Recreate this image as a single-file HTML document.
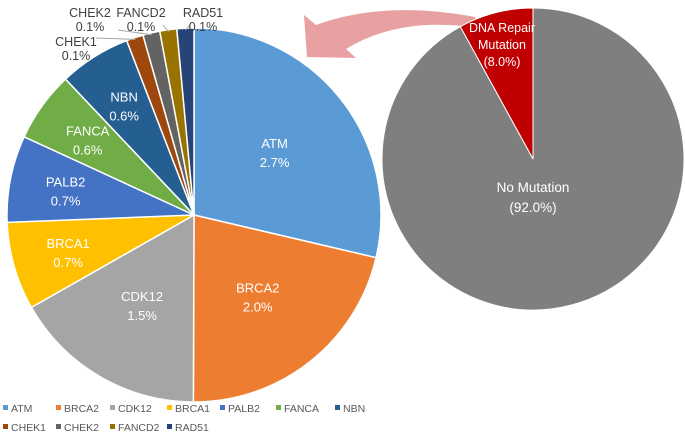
<!DOCTYPE html>
<html><head><meta charset="utf-8"><style>
body{margin:0;background:#fff;width:685px;height:435px;overflow:hidden;font-family:"Liberation Sans",sans-serif}
svg text{font-family:"Liberation Sans",sans-serif}
</style></head><body>
<svg id="chart" width="685" height="435" viewBox="0 0 685 435" xmlns="http://www.w3.org/2000/svg">
<path d="M304,15 L316,25 Q385,0 475,17 L478,28 Q400,16 346,49 L356,58 L307,57 Z" fill="#e8a0a2"/>
<g id="right"></g>
<g id="left"></g>
<g id="labels"></g>
<g id="legend"></g>
</svg>
<script>
const genes=["ATM","BRCA2","CDK12","BRCA1","PALB2","FANCA","NBN","CHEK1","CHEK2","FANCD2","RAD51"];
const geneWeights=[2.64,1.97,1.54,0.70,0.69,0.56,0.57,0.135,0.135,0.135,0.135];
const geneLabels=["2.7%","2.0%","1.5%","0.7%","0.7%","0.6%","0.6%","0.1%","0.1%","0.1%","0.1%"];
const geneColors=["#5b9bd5","#ed7d31","#a5a5a5","#ffc000","#4472c4","#70ad47","#255e91","#9e480e","#636363","#997300","#264478"];
const overallCats=["DNA Repair Mutation","No Mutation"];
const overallValues=[8.0,92.0];
const NS="http://www.w3.org/2000/svg";
function el(t,a,p){const e=document.createElementNS(NS,t);for(const k in a)e.setAttribute(k,a[k]);p.appendChild(e);return e;}
function pt(cx,cy,r,deg){const a=deg*Math.PI/180;return [cx+r*Math.sin(a),cy-r*Math.cos(a)];}
function arc(cx,cy,r,a0,a1){const p0=pt(cx,cy,r,a0),p1=pt(cx,cy,r,a1);const lg=(a1-a0)>180?1:0;return `M${cx},${cy} L${p0[0]},${p0[1]} A${r},${r} 0 ${lg} 1 ${p1[0]},${p1[1]} Z`;}
const R=document.getElementById('right');
const rcx=533,rcy=159,rr=151;
const totR=overallValues.reduce((a,b)=>a+b,0);
const rColors=["#c00000","#7f7f7f"];
let start=-overallValues[0]/totR*360;
overallValues.forEach((v,i)=>{const sw=v/totR*360;const p=el('path',{d:arc(rcx,rcy,rr,start,start+sw),fill:rColors[i],stroke:'#fff','stroke-width':1},R);

start+=sw;});
function txt(x,y,s,fill,size,parent,name){const t=el('text',{x:x,y:y,fill:fill,'font-size':size,'text-anchor':'middle'},parent);t.textContent=s;

return t;}
const Lb=document.getElementById('labels');
txt(502,32,"DNA Repair","#fff",12.5,Lb,'label-dna-repair');
txt(502,49,"Mutation","#fff",12.5,Lb,'label-dna-repair-2');
txt(502,66,"("+overallValues[0].toFixed(1)+"%)","#fff",12.5,Lb,'label-dna-repair-pct');
txt(533,192,"No Mutation","#fff",13.5,Lb,'label-no-mutation');
txt(533,212,"("+overallValues[1].toFixed(1)+"%)","#fff",13.5,Lb,'label-no-mutation-pct');
const L=document.getElementById('left');
const cx=194,cy=215,r=187;
const tot=geneWeights.reduce((a,b)=>a+b,0);
let s=0;
geneWeights.forEach((v,i)=>{const sw=v/tot*360;const p=el('path',{d:arc(cx,cy,r,s,s+sw),fill:geneColors[i],stroke:'#fff','stroke-width':1.5},L);


const mid=s+sw/2;
if(i<7){const rf=i<3?0.55:0.7;const q=pt(cx,cy,r*rf,mid);
txt(q[0],q[1]-3,genes[i],"#fff",13,Lb,'label-'+genes[i].toLowerCase());
txt(q[0],q[1]+16,geneLabels[i],"#fff",13,Lb,'pct-'+genes[i].toLowerCase());}
else{const a=pt(cx,cy,r*0.99,mid);const offs=[[76,37],[90,8],[141,8],[203,8]][i-7];
const lineEnd=[[96,38],[118,30],[163,25],[190,25]][i-7];
const ln=el('line',{x1:a[0],y1:a[1],x2:lineEnd[0],y2:lineEnd[1],stroke:'#a6a6a6','stroke-width':1},Lb);


txt(offs[0],offs[1]+9,genes[i],"#404040",12.5,Lb,'label-'+genes[i].toLowerCase());
txt(offs[0],offs[1]+23,geneLabels[i],"#404040",12.5,Lb,'pct-'+genes[i].toLowerCase());}
s+=sw;});
const G=document.getElementById('legend');
const lx=[3,56,110,167,220,276,335];
genes.forEach((g,i)=>{const row=i<7?0:1;const col=i<7?i:i-7;const y=row?431:412;
const grp=el('g',{},G);


el('rect',{x:lx[col],y:y-7,width:5,height:5,fill:geneColors[i]},grp);
const t=el('text',{x:lx[col]+8,y:y,fill:'#595959','font-size':10.5},grp);t.textContent=g;});
</script>
</body></html>
